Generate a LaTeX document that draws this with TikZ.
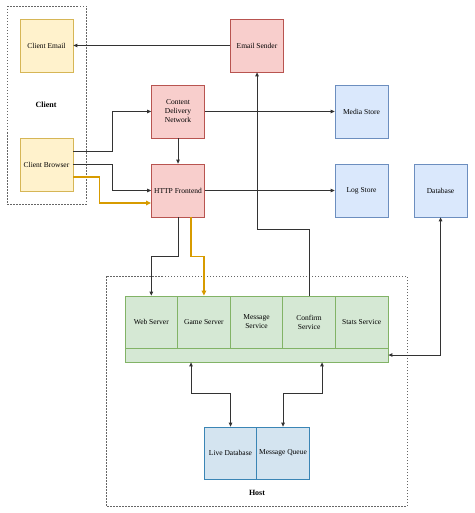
\documentclass[tikz,border=0pt]{standalone}
\usepackage{fontspec}
\setmainfont{Liberation Serif}
\usetikzlibrary{arrows.meta}
\definecolor{yfill}{HTML}{FFF2CC}\definecolor{ydraw}{HTML}{D6B656}
\definecolor{rfill}{HTML}{F8CECC}\definecolor{rdraw}{HTML}{B85450}
\definecolor{bfill}{HTML}{DAE8FC}\definecolor{bdraw}{HTML}{6C8EBF}
\definecolor{gfill}{HTML}{D5E8D4}\definecolor{gdraw}{HTML}{82B366}
\definecolor{lfill}{HTML}{D4E4F0}\definecolor{ldraw}{HTML}{3A85B5}
\definecolor{orng}{HTML}{D79B00}
\definecolor{lin}{HTML}{333333}
\tikzset{
  box/.style={draw, line width=0.8pt, minimum width=53pt, minimum height=53pt, inner sep=1pt, align=center, font=\fontsize{7.5}{9}\selectfont},
  ybox/.style={box, fill=yfill, draw=ydraw},
  rbox/.style={box, fill=rfill, draw=rdraw},
  bbox/.style={box, fill=bfill, draw=bdraw},
  gbox/.style={box, fill=gfill, draw=gdraw, minimum width=52.6pt, minimum height=52pt},
  lbox/.style={box, fill=lfill, draw=ldraw, minimum height=52pt},
  conn/.style={draw=lin, line width=0.9pt, -{Triangle[length=4pt,width=3.6pt]}},
  biconn/.style={draw=lin, line width=0.9pt, {Triangle[length=4pt,width=3.6pt]}-{Triangle[length=4pt,width=3.6pt]}},
  oconn/.style={draw=orng, line width=1.3pt, -{Triangle[length=5pt,width=4.5pt]}},
  group/.style={draw=gray!80!black, line width=0.8pt, dash pattern=on 1.5pt off 1.5pt},
  lbl/.style={font=\fontsize{8}{9}\selectfont\bfseries}
}
\begin{document}
\begin{tikzpicture}[x=1pt,y=-1pt]
\useasboundingbox (0,0) rectangle (474,513);
% groups
\draw[group] (7,6) rectangle (86,204);
\draw[group] (106,276) rectangle (407,506);
\node[lbl] (clientlbl) at (46,105) {Client};
\node[lbl] (hostlbl) at (257,493) {Host};
% nodes
\node[ybox] (ce) at (46.5,45.5) {Client Email};
\node[ybox] (cb) at (46.5,164.5) {Client Browser};
\node[rbox] (cdn) at (178,111.5) {Content\\Delivery\\Network};
\node[rbox] (http) at (178,190.5) {HTTP Frontend};
\node[rbox] (es) at (257,45.5) {Email Sender};
\node[bbox] (ms) at (361.5,111.5) {Media Store};
\node[bbox] (ls) at (361.5,190.5) {Log Store};
\node[bbox] (db) at (440.5,190.5) {Database};
\node[gbox, minimum width=263pt, minimum height=14pt] (strip) at (256.5,355) {};
\node[gbox] (s1) at (151.3,322) {Web Server};
\node[gbox] (s2) at (203.9,322) {Game Server};
\node[gbox] (s3) at (256.5,322) {Message\\Service};
\node[gbox] (s4) at (309.1,322) {Confirm\\Service};
\node[gbox] (s5) at (361.7,322) {Stats Service};
\node[lbox] (ldb) at (230.5,453) {Live Database};
\node[lbox] (mq) at (283,453) {Message Queue};
% connectors
\draw[conn] (es.west) -- (ce.east);
\draw[conn] ([yshift=13.5pt]cb.east) -- ++(39,0) |- (cdn.west);
\draw[conn] ([yshift=0.5pt]cb.east) -- ++(39,0) |- (http.west);
\draw[oconn] ([yshift=-12.5pt]cb.east) -- ++(26,0) |- ([yshift=-12.5pt]http.west);
\draw[conn] (cdn) -- (http);
\draw[conn] (cdn) -- (ms);
\draw[conn] (http) -- (ls);
\draw[conn] (s4.north) -- ++(0,-66) -| (es.south);
\draw[conn] (http.south) -- ++(0,39) -| (s1.north);
\draw[oconn] ([xshift=13pt]http.south) -- ++(0,39) -| (s2.north);
\draw[biconn] (db.south) |- (strip.east);
\draw[biconn] ([xshift=-65.5pt]strip.south) -- ++(0,31) -| (ldb.north);
\draw[biconn] ([xshift=65.5pt]strip.south) -- ++(0,31) -| (mq.north);
\end{tikzpicture}
\end{document}
